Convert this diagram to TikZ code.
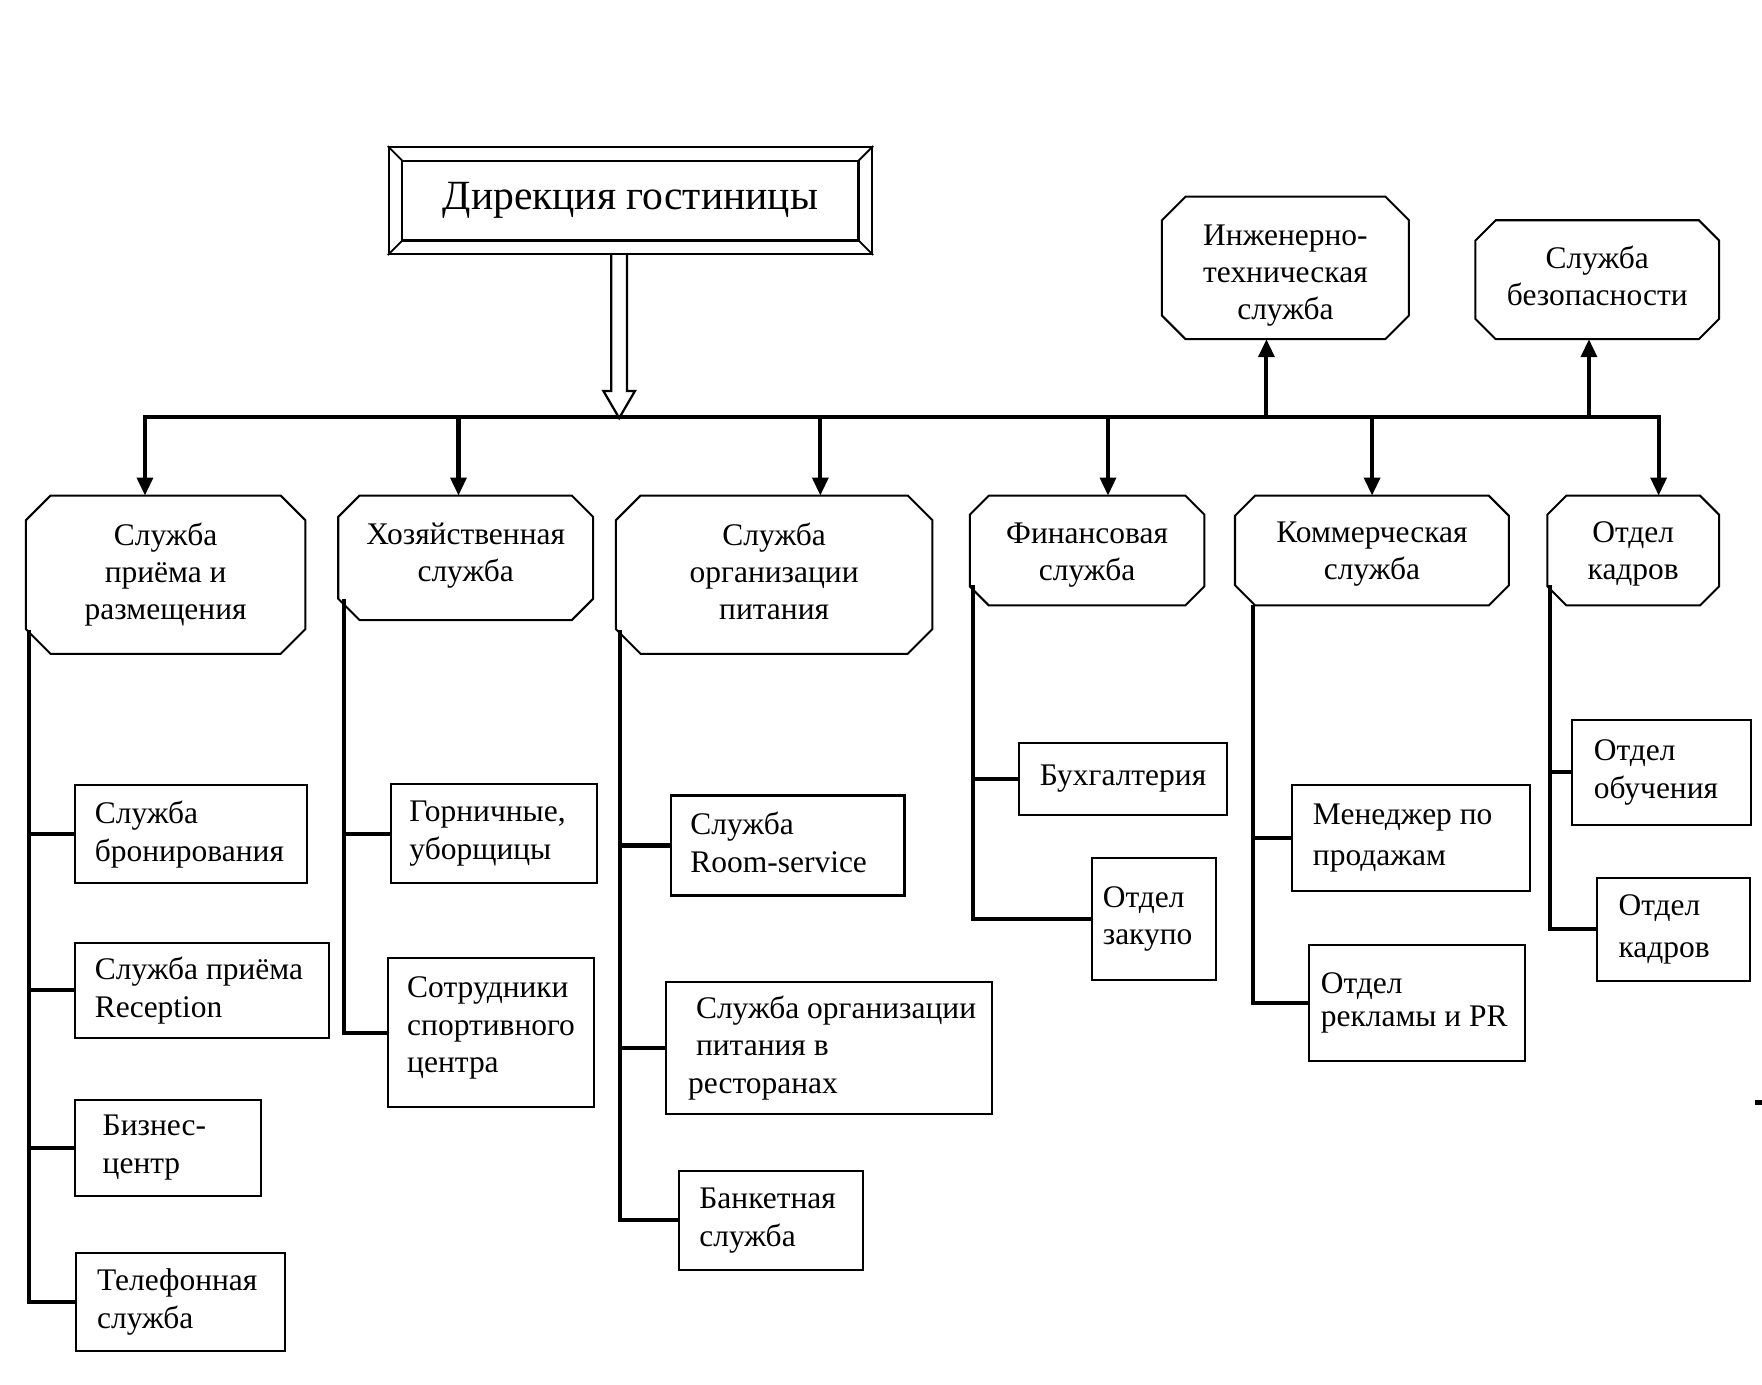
\documentclass[tikz,border=0pt]{standalone}
\usepackage{fontspec}
\setmainfont{Liberation Serif}
\usetikzlibrary{arrows.meta}
\newcommand\octo[2]{%
  \draw[obord] ([yshift=-#2]#1.north west) -- ([xshift=#2]#1.north west) -- ([xshift=-#2]#1.north east) -- ([yshift=-#2]#1.north east) -- ([yshift=#2]#1.south east) -- ([xshift=-#2]#1.south east) -- ([xshift=#2]#1.south west) -- ([yshift=#2]#1.south west) -- cycle;}
\begin{document}
\begin{tikzpicture}[x=0.5pt,y=-0.5pt,
  txt/.style={font=\fontsize{14pt}{16.75pt}\selectfont, align=left, inner sep=0pt, anchor=west},
  otxt/.style={font=\fontsize{14pt}{16.5pt}\selectfont, align=center, inner sep=0pt},
  cbox/.style={draw, line width=0.9pt, rectangle, inner sep=0pt, anchor=north west},
  obox/.style={rectangle, inner sep=0pt, anchor=north west},
  obord/.style={line width=0.9pt, line join=miter},
  conn/.style={line width=1.8pt},
  bar/.style={line width=2pt, line cap=rect},
  arr/.style={line width=1.8pt, -{Triangle[width=7pt,length=8pt]}},
]
\fill[white] (0,0) rectangle (1568,1232);
\useasboundingbox (0,0) rectangle (1568,1232);

% title
\node[draw, line width=1pt, rectangle, inner sep=0pt, anchor=north west, minimum width=215pt, minimum height=47.5pt, font=\fontsize{18.5pt}{22pt}\selectfont] (t) at (345,130) {Дирекция гостиницы};
\draw[line width=1pt] ([shift={(6.5pt,-6.5pt)}]t.north west) rectangle ([shift={(-6.5pt,6.5pt)}]t.south east);
\draw[line width=0.8pt] (t.north west) -- ++(6.5pt,-6.5pt);
\draw[line width=0.8pt] (t.north east) -- ++(-6.5pt,-6.5pt);
\draw[line width=0.8pt] (t.south west) -- ++(6.5pt,6.5pt);
\draw[line width=0.8pt] (t.south east) -- ++(-6.5pt,6.5pt);

% octagon nodes
\node[obox, minimum width=124pt, minimum height=70pt] (o1) at (23,441) {};
\node[otxt] (o1t) at (o1.center) {Служба\\приёма и\\размещения};
\node[obox, minimum width=113pt, minimum height=55pt] (o2) at (301,441) {};
\node[otxt] (o2t) at ([yshift=1pt]o2.center) {Хозяйственная\\служба};
\node[obox, minimum width=140.5pt, minimum height=70pt] (o3) at (548,441) {};
\node[otxt] (o3t) at ([yshift=1.5pt]o3.center) {Служба\\организации\\питания};
\node[obox, minimum width=104pt, minimum height=48.5pt] (o4) at (863,441) {};
\node[otxt] (o4t) at ([yshift=-2pt]o4.center) {Финансовая\\служба};
\node[obox, minimum width=121.5pt, minimum height=48.5pt] (o5) at (1099,441) {};
\node[otxt] (o5t) at ([yshift=-1.5pt]o5.center) {Коммерческая\\служба};
\node[obox, minimum width=76pt, minimum height=48.5pt] (o6) at (1377,441) {};
\node[otxt] (o6t) at ([yshift=-1.5pt]o6.center) {Отдел\\кадров};
\node[obox, minimum width=109.5pt, minimum height=63pt] (o7) at (1034,175) {};
\node[otxt] (o7t) at ([yshift=-3.5pt]o7.center) {Инженерно-\\техническая\\служба};
\node[obox, minimum width=108pt, minimum height=52.5pt] (o8) at (1313,196) {};
\node[otxt] (o8t) at ([yshift=1.5pt]o8.center) {Служба\\безопасности};
\octo{o1}{11pt}
\octo{o2}{9.5pt}
\octo{o3}{11pt}
\octo{o4}{8.5pt}
\octo{o5}{9pt}
\octo{o6}{8.5pt}
\octo{o7}{10.5pt}
\octo{o8}{9pt}

% child boxes
\node[cbox, minimum width=103pt, minimum height=43.5pt] (c11) at (66,698) {};
\node[txt] (c11t) at ([xshift=9pt]c11.west) {Служба\\бронирования};
\node[cbox, minimum width=113pt, minimum height=42.5pt] (c12) at (66,838) {};
\node[txt] (c12t) at ([xshift=9pt]c12.west) {Служба приёма\\Reception};
\node[cbox, minimum width=82.5pt, minimum height=42.5pt] (c13) at (66,978) {};
\node[txt] (c13t) at ([xshift=12.5pt]c13.west) {Бизнес-\\центр};
\node[cbox, minimum width=93pt, minimum height=43.5pt] (c14) at (67,1114) {};
\node[txt] (c14t) at ([xshift=9.5pt]c14.west) {Телефонная\\служба};

\node[cbox, minimum width=91.5pt, minimum height=44pt] (c21) at (347,697) {};
\node[txt] (c21t) at ([xshift=8.5pt]c21.west) {Горничные,\\уборщицы};
\node[cbox, minimum width=92pt, minimum height=66pt] (c22) at (344,852) {};
\node[txt] (c22t) at ([xshift=9pt,yshift=2pt]c22.west) {Сотрудники\\спортивного\\центра};

\node[cbox, minimum width=104pt, minimum height=44.5pt] (c31) at (596,707) {};
\node[txt] (c31t) at ([xshift=9pt,yshift=1.5pt]c31.west) {Служба\\Room-service};
\node[cbox, minimum width=145pt, minimum height=58.5pt] (c32) at (592,873) {};
\node[txt] (c32t) at ([xshift=10pt]c32.west) {\hspace{3.5pt}Служба организации\\\hspace{3.5pt}питания в\\ресторанах};
\node[cbox, minimum width=82pt, minimum height=44pt] (c33) at (603,1041) {};
\node[txt] (c33t) at ([xshift=9.5pt]c33.west) {Банкетная\\служба};

\node[cbox, minimum width=92.5pt, minimum height=32pt] (c41) at (906,660) {};
\node[txt] (c41t) at ([xshift=9.5pt]c41.west) {Бухгалтерия};
\node[cbox, minimum width=55pt, minimum height=54pt] (c42) at (971,763) {};
\node[txt] (c42t) at ([xshift=5pt]c42.west) {Отдел\\закупо};

\node[cbox, minimum width=106pt, minimum height=47pt] (c51) at (1149,698) {};
\node[txt, font=\fontsize{14pt}{18.5pt}\selectfont] (c51t) at ([xshift=9.5pt]c51.west) {Менеджер по\\продажам};
\node[cbox, minimum width=96pt, minimum height=51.5pt] (c52) at (1164,840) {};
\node[txt, font=\fontsize{14pt}{15pt}\selectfont] (c52t) at ([xshift=5.5pt]c52.west) {Отдел\\рекламы и PR};

\node[cbox, minimum width=79.5pt, minimum height=46.5pt] (c61) at (1398,640) {};
\node[txt] (c61t) at ([xshift=10pt]c61.west) {Отдел\\обучения};
\node[cbox, minimum width=68pt, minimum height=46pt] (c62) at (1420,780) {};
\node[txt, font=\fontsize{14pt}{18.5pt}\selectfont] (c62t) at ([xshift=10pt]c62.west) {Отдел\\кадров};

% hollow arrow
\draw[line width=1pt, fill=white, line join=miter] ([xshift=-8.5pt]t.south) -- ++(0,121) -- ++(-7,0) -- ++(14,24) -- ++(14,-24) -- ++(-7,0) -- ++(0,-121);

% bar
\coordinate (d1) at (129,371);
\coordinate (d2) at (408,371);
\coordinate (d3) at (730,371);
\coordinate (d4) at (986,371);
\coordinate (d5) at (1221,371);
\coordinate (d6) at (1476,371);
\coordinate (u1) at (1127,371);
\coordinate (u2) at (1414,371);
\draw[bar] (d1) -- (d6);
\draw[arr] (d1) -- (d1 |- o1.north);
\draw[arr] (d2) -- (d2 |- o2.north);
\draw[arr] (d3) -- (d3 |- o3.north);
\draw[arr] (d4) -- (d4 |- o4.north);
\draw[arr] (d5) -- (d5 |- o5.north);
\draw[arr] (d6) -- (d6 |- o6.north);
\draw[arr] (u1) -- (u1 |- o7.south);
\draw[arr] (u2) -- (u2 |- o8.south);

% trunks
\coordinate (t1) at (26,561);
\coordinate (t2) at (306,533);
\coordinate (t3) at (552,561);
\coordinate (t4) at (866,521);
\coordinate (t5) at (1115,538);
\coordinate (t6) at (1379,521);
\draw[conn] (t1) |- (c11.west);
\draw[conn] (t1) |- (c12.west);
\draw[conn] (t1) |- (c13.west);
\draw[conn] (t1) |- (c14.west);
\draw[conn] (t2) |- (c21.west);
\draw[conn] (t2) |- (c22.west);
\draw[conn] (t3) |- (c31.west);
\draw[conn] (t3) |- (c32.west);
\draw[conn] (t3) |- (c33.west);
\draw[conn] (t4) |- (c41.west);
\draw[conn] (t4) |- (c42.west);
\draw[conn] (t5) |- (c51.west);
\draw[conn] (t5) |- (c52.west);
\draw[conn] (t6) |- (c61.west);
\draw[conn] (t6) |- (c62.west);

% stray mark at right edge
\draw[line width=2pt] (1562,981) -- (1568,981);
\end{tikzpicture}
\end{document}
